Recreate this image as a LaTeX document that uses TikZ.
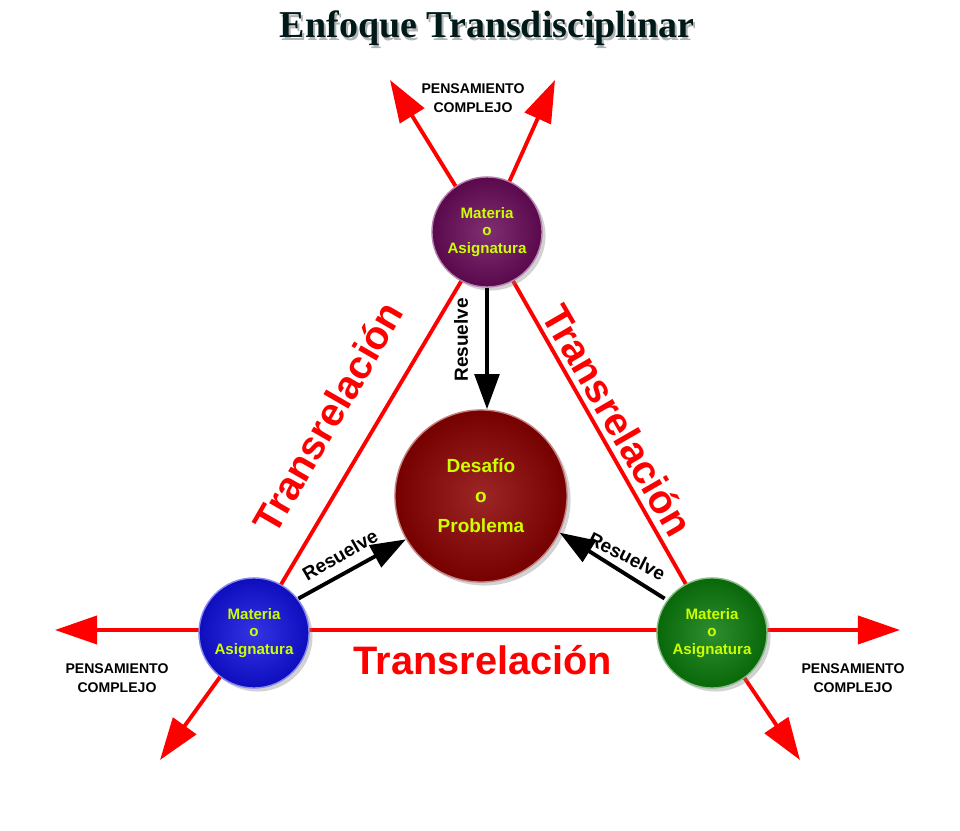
\documentclass[tikz,border=0pt]{standalone}
\usepackage{fontspec}
\setmainfont{Liberation Sans}
\newfontfamily\titlefont{Liberation Serif}
\usetikzlibrary{arrows.meta,shadows}
\definecolor{ctxt}{HTML}{CCFF00}
\definecolor{cmaroon}{HTML}{8B0000}
\definecolor{cpurple}{HTML}{6A0A5A}
\definecolor{cblue}{HTML}{1010E0}
\definecolor{cgreen}{HTML}{0A7A0A}
\begin{document}
\begin{tikzpicture}[x=0.01cm,y=-0.01cm,
  redline/.style={red,line width=1.1pt},
  redarrow/.style={redline,-{Triangle[length=12pt,width=8pt]}},
  blkarrow/.style={black,line width=1.1pt,-{Triangle[length=10pt,width=7pt]}},
  circ/.style={circle,inner sep=0pt,draw=#1!50!white,line width=0.4pt,inner color=#1!85!white,outer color=#1!85!black,drop shadow={opacity=0.35,shadow xshift=1pt,shadow yshift=-1pt}},
  ctext/.style={text=ctxt,font=\bfseries\fontsize{4.3}{5}\selectfont,align=center},
  trans/.style={text=red,font=\bfseries\fontsize{11.3}{13}\selectfont},
  pens/.style={font=\bfseries\fontsize{4}{5.5}\selectfont,align=center},
  res/.style={font=\bfseries\fontsize{5.4}{6}\selectfont}]
\useasboundingbox (0,0) rectangle (960,831);
\fill[white] (0,0) rectangle (960,831);
% lines
\coordinate (tl) at (390,80); \coordinate (tr) at (555,80);
\coordinate (bl) at (160,760); \coordinate (br) at (800,760);
\coordinate (le) at (55,630); \coordinate (re) at (900,630);
\coordinate (pl) at (475,258); \coordinate (pr) at (500,258);
\coordinate (ql) at (254,630); \coordinate (qr) at (712,630);
\draw[redline] (pl) -- (ql);
\draw[redline] (pr) -- (qr);
\draw[redline] (ql) -- (qr);
\draw[redarrow] (pr) -- (tl);
\draw[redarrow] (pl) -- (tr);
\draw[redarrow] (ql) -- (bl);
\draw[redarrow] (qr) -- (br);
\draw[redarrow] (ql) -- (le);
\draw[redarrow] (qr) -- (re);
% circles
\node[circ=cmaroon,minimum size=1.72cm] (c) at (481,496) {};
\node[circ=cpurple,minimum size=1.1cm] (t) at (487,232) {};
\node[circ=cblue,minimum size=1.1cm] (l) at (254,633) {};
\node[circ=cgreen,minimum size=1.1cm] (r) at (712,633) {};
\node[ctext,font=\bfseries\fontsize{5.4}{8.5}\selectfont] at (c) {Desafío\\o\\Problema};
\node[ctext] at (t) {Materia\\o\\Asignatura};
\node[ctext] at (l) {Materia\\o\\Asignatura};
\node[ctext] at (r) {Materia\\o\\Asignatura};
% resuelve
\draw[blkarrow] (t.south) -- (t.south |- c.north);
\node[res,rotate=90] at (461,340) {Resuelve};
\draw[blkarrow] (l.north east) ++(5,5) -- (c.210);
\node[res,rotate=30] at (340,555) {Resuelve};
\draw[blkarrow] (r.north west) ++(-8,5) -- (c.-25);
\node[res,rotate=-27] at (627,556) {Resuelve};
% labels
\node[trans,rotate=60] at (328,417) {Transrelación};
\node[trans,rotate=-60] at (618,420) {Transrelación};
\node[trans] at (483,660) {Transrelación};
\node[pens] at (473,98) {PENSAMIENTO\\COMPLEJO};
\node[pens] at (117,678) {PENSAMIENTO\\COMPLEJO};
\node[pens] at (853,678) {PENSAMIENTO\\COMPLEJO};
\node[text=gray!60,font=\titlefont\bfseries\fontsize{10.8}{12}\selectfont] at (489,31) {Enfoque Transdisciplinar};
\node[text=black!80!teal,font=\titlefont\bfseries\fontsize{10.8}{12}\selectfont] (title) at (487,28) {Enfoque Transdisciplinar};
\end{tikzpicture}
\end{document}
